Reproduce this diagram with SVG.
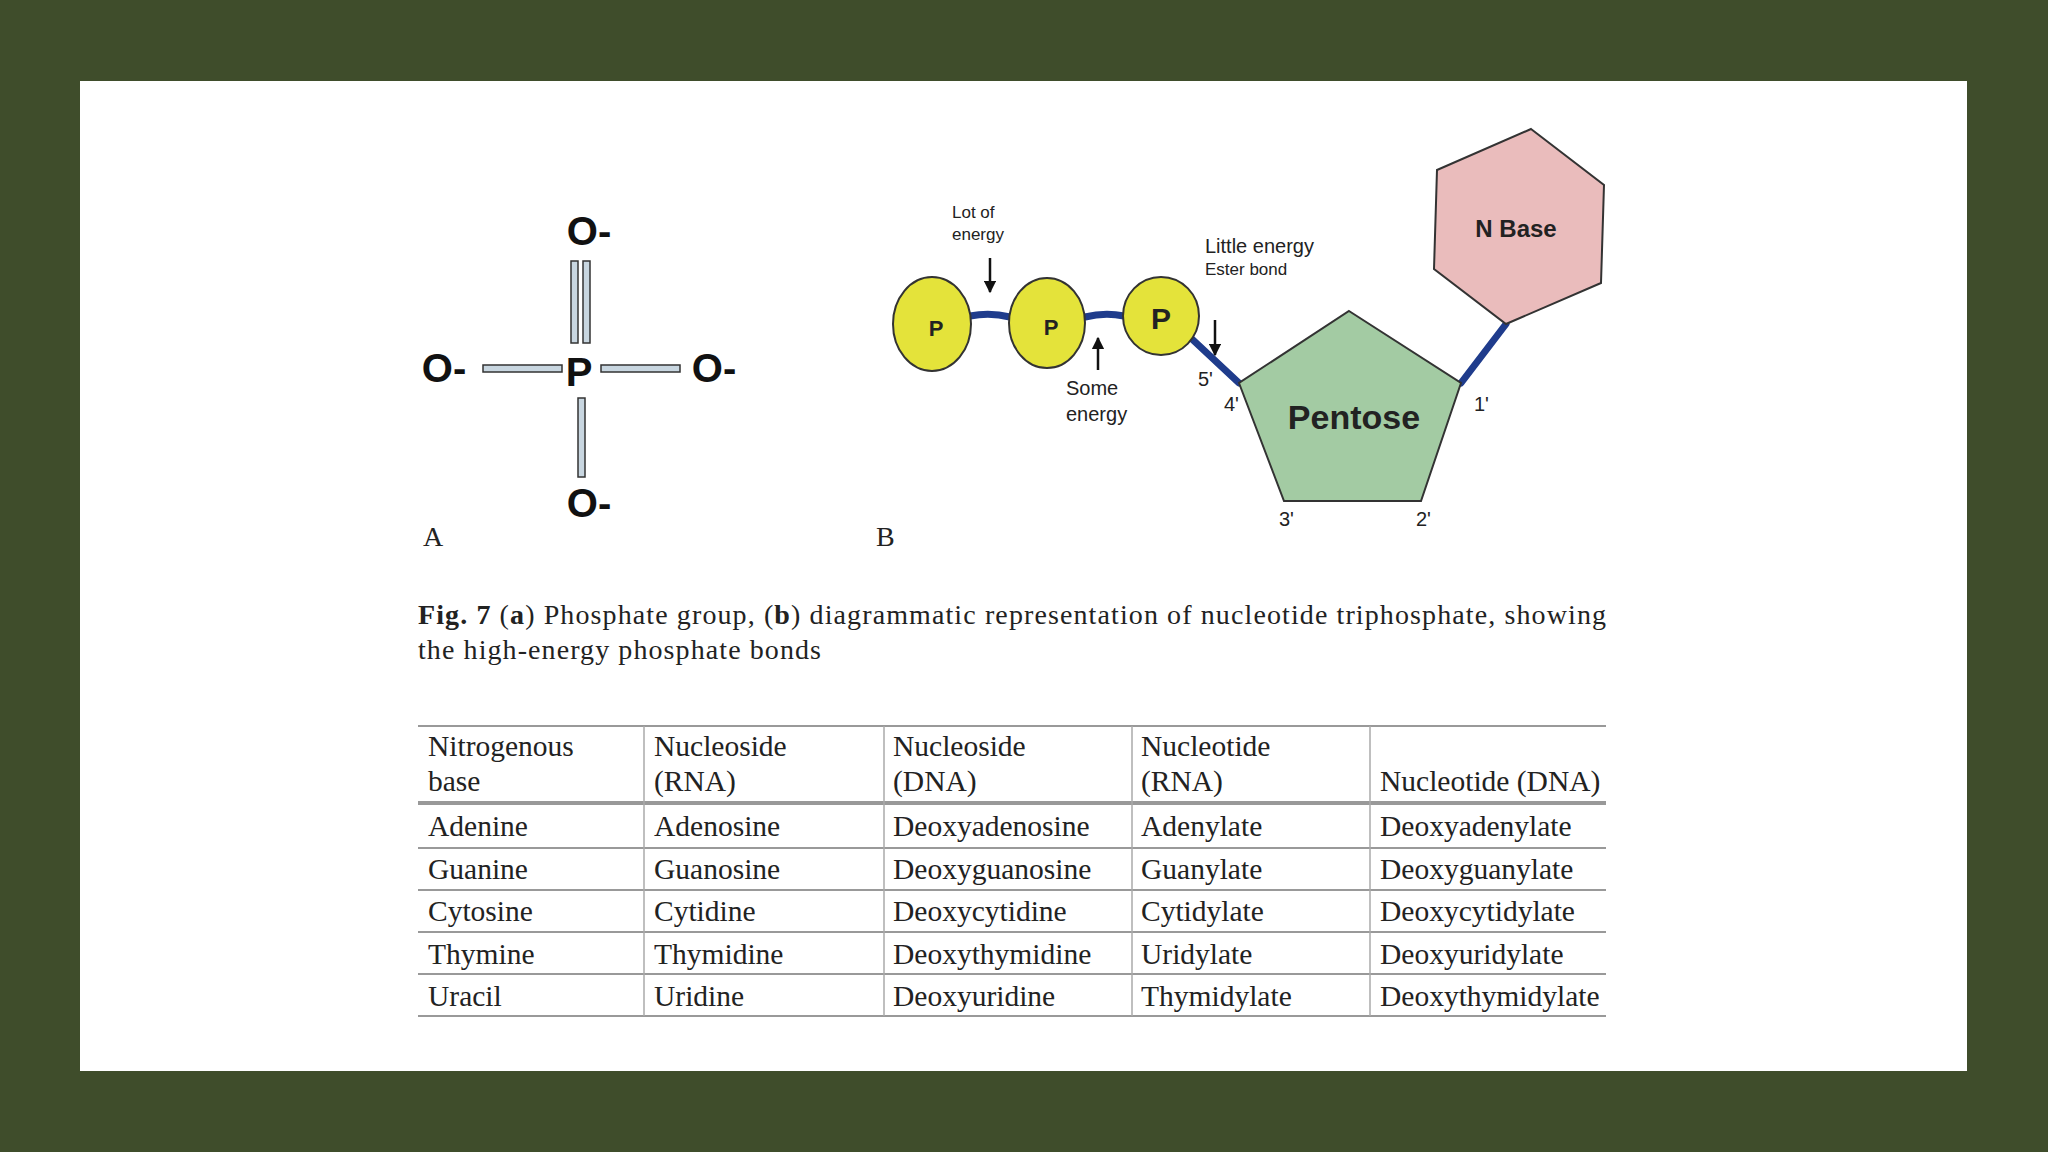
<svg xmlns="http://www.w3.org/2000/svg" width="2048" height="1152" viewBox="0 0 2048 1152">
<defs>
<marker id="ah" viewBox="0 0 10 10" refX="9" refY="5" markerWidth="5" markerHeight="5" orient="auto"><path d="M0,0 L10,5 L0,10 z" fill="#111"/></marker>
<style>
.o{font-family:"Liberation Sans",Arial,sans-serif;font-weight:bold;font-size:40px;fill:#111}
.bond{fill:#c8d6e0;stroke:#333;stroke-width:1.5}
.s{font-family:"Liberation Sans",Arial,sans-serif;fill:#222}
.t{font-family:"Liberation Serif","Times New Roman",serif;font-size:29.5px;fill:#222}
.cap{font-family:"Liberation Serif","Times New Roman",serif;font-size:28px;fill:#222}
.hl{stroke:#999;stroke-width:2}
.vl{stroke:#aaa;stroke-width:1.5}
.lnk{stroke:#1f3c8c;stroke-width:7;stroke-linecap:round;fill:none}
.arr{stroke:#111;stroke-width:2.5;marker-end:url(#ah)}
.pc{fill:#e4e33a;stroke:#333;stroke-width:2}
</style>
</defs>
<rect width="2048" height="1152" fill="#3f4d2b"/>
<rect x="80" y="81" width="1887" height="990" fill="#fff"/>

<g id="phosphate">
<rect class="bond" x="571" y="261" width="7" height="82"/>
<rect class="bond" x="583" y="261" width="7" height="82"/>
<rect class="bond" x="483" y="365" width="79" height="7"/>
<rect class="bond" x="601" y="365" width="79" height="7"/>
<rect class="bond" x="578" y="398" width="7" height="79"/>
<text class="o" x="589" y="245" text-anchor="middle">O-</text>
<text class="o" x="579" y="386" text-anchor="middle">P</text>
<text class="o" x="444" y="382" text-anchor="middle">O-</text>
<text class="o" x="714" y="382" text-anchor="middle">O-</text>
<text class="o" x="589" y="517" text-anchor="middle">O-</text>
<text class="cap" x="423" y="546" font-size="30">A</text>
</g>
<text class="cap" x="876" y="546" font-size="30">B</text>

<g id="connectors">
<path class="lnk" d="M970,316 Q990,312 1010,317"/>
<path class="lnk" d="M1085,317 Q1105,312 1124,316"/>
<line class="lnk" x1="1193" y1="340" x2="1239" y2="383"/>
<line class="lnk" x1="1461" y1="383" x2="1506" y2="324"/>
<line class="arr" x1="990" y1="258" x2="990" y2="292"/>
<line class="arr" x1="1098" y1="370" x2="1098" y2="338"/>
<line class="arr" x1="1215" y1="320" x2="1215" y2="355"/>
</g>

<g id="p1"><ellipse class="pc" cx="932" cy="324" rx="39" ry="47"/><text class="s" x="936" y="336" font-size="22" font-weight="bold" text-anchor="middle">P</text></g>
<g id="p2"><ellipse class="pc" cx="1047" cy="323" rx="38" ry="45"/><text class="s" x="1051" y="335" font-size="22" font-weight="bold" text-anchor="middle">P</text></g>
<g id="p3"><ellipse class="pc" cx="1161" cy="316" rx="38" ry="39"/><text class="s" x="1161" y="329" font-size="30" font-weight="bold" text-anchor="middle">P</text></g>

<g id="pentose">
<polygon points="1349,311 1461,383 1421,501 1284,501 1239,383" fill="#a3cba3" stroke="#333" stroke-width="2"/>
<text class="s" x="1354" y="429" font-size="34" font-weight="bold" text-anchor="middle">Pentose</text>
</g>
<g id="nbase">
<polygon points="1531,129 1604,185 1601,283 1506,324 1434,269 1437,170" fill="#eabcbc" stroke="#333" stroke-width="2"/>
<text class="s" x="1516" y="237" font-size="24" font-weight="bold" text-anchor="middle">N Base</text>
</g>

<g id="labels">
<text class="s" x="952" y="218" font-size="17">Lot of</text>
<text class="s" x="952" y="240" font-size="17">energy</text>
<text class="s" x="1066" y="395" font-size="20">Some</text>
<text class="s" x="1066" y="421" font-size="20">energy</text>
<text class="s" x="1205" y="253" font-size="20">Little energy</text>
<text class="s" x="1205" y="275" font-size="17">Ester bond</text>
<text class="s" x="1198" y="386" font-size="20">5'</text>
<text class="s" x="1224" y="411" font-size="20">4'</text>
<text class="s" x="1474" y="411" font-size="20">1'</text>
<text class="s" x="1279" y="526" font-size="20">3'</text>
<text class="s" x="1416" y="526" font-size="20">2'</text>
</g>

<g id="caption">
<text class="cap" x="418" y="624" textLength="1188" lengthAdjust="spacing"><tspan font-weight="bold">Fig. 7</tspan>   (<tspan font-weight="bold">a</tspan>) Phosphate group, (<tspan font-weight="bold">b</tspan>) diagrammatic representation of nucleotide triphosphate, showing</text>
<text class="cap" x="418" y="659" textLength="403" lengthAdjust="spacing">the high-energy phosphate bonds</text>
</g>

<g id="table">
<line class="hl" x1="418" y1="726" x2="1606" y2="726"/>
<line x1="418" y1="803" x2="1606" y2="803" stroke="#999" stroke-width="4"/>
<line class="hl" x1="418" y1="848" x2="1606" y2="848"/>
<line class="hl" x1="418" y1="890" x2="1606" y2="890"/>
<line class="hl" x1="418" y1="932" x2="1606" y2="932"/>
<line class="hl" x1="418" y1="974" x2="1606" y2="974"/>
<line class="hl" x1="418" y1="1016" x2="1606" y2="1016"/>
<line class="vl" x1="644" y1="726" x2="644" y2="1016"/>
<line class="vl" x1="884" y1="726" x2="884" y2="1016"/>
<line class="vl" x1="1132" y1="726" x2="1132" y2="1016"/>
<line class="vl" x1="1370" y1="726" x2="1370" y2="1016"/>
<text class="t" x="428" y="756">Nitrogenous</text><text class="t" x="428" y="791">base</text>
<text class="t" x="654" y="756">Nucleoside</text><text class="t" x="654" y="791">(RNA)</text>
<text class="t" x="893" y="756">Nucleoside</text><text class="t" x="893" y="791">(DNA)</text>
<text class="t" x="1141" y="756">Nucleotide</text><text class="t" x="1141" y="791">(RNA)</text>
<text class="t" x="1380" y="791">Nucleotide (DNA)</text>
<text class="t" x="428" y="836">Adenine</text><text class="t" x="654" y="836">Adenosine</text><text class="t" x="893" y="836">Deoxyadenosine</text><text class="t" x="1141" y="836">Adenylate</text><text class="t" x="1380" y="836">Deoxyadenylate</text>
<text class="t" x="428" y="879">Guanine</text><text class="t" x="654" y="879">Guanosine</text><text class="t" x="893" y="879">Deoxyguanosine</text><text class="t" x="1141" y="879">Guanylate</text><text class="t" x="1380" y="879">Deoxyguanylate</text>
<text class="t" x="428" y="921">Cytosine</text><text class="t" x="654" y="921">Cytidine</text><text class="t" x="893" y="921">Deoxycytidine</text><text class="t" x="1141" y="921">Cytidylate</text><text class="t" x="1380" y="921">Deoxycytidylate</text>
<text class="t" x="428" y="964">Thymine</text><text class="t" x="654" y="964">Thymidine</text><text class="t" x="893" y="964">Deoxythymidine</text><text class="t" x="1141" y="964">Uridylate</text><text class="t" x="1380" y="964">Deoxyuridylate</text>
<text class="t" x="428" y="1006">Uracil</text><text class="t" x="654" y="1006">Uridine</text><text class="t" x="893" y="1006">Deoxyuridine</text><text class="t" x="1141" y="1006">Thymidylate</text><text class="t" x="1380" y="1006">Deoxythymidylate</text>
</g>
</svg>
